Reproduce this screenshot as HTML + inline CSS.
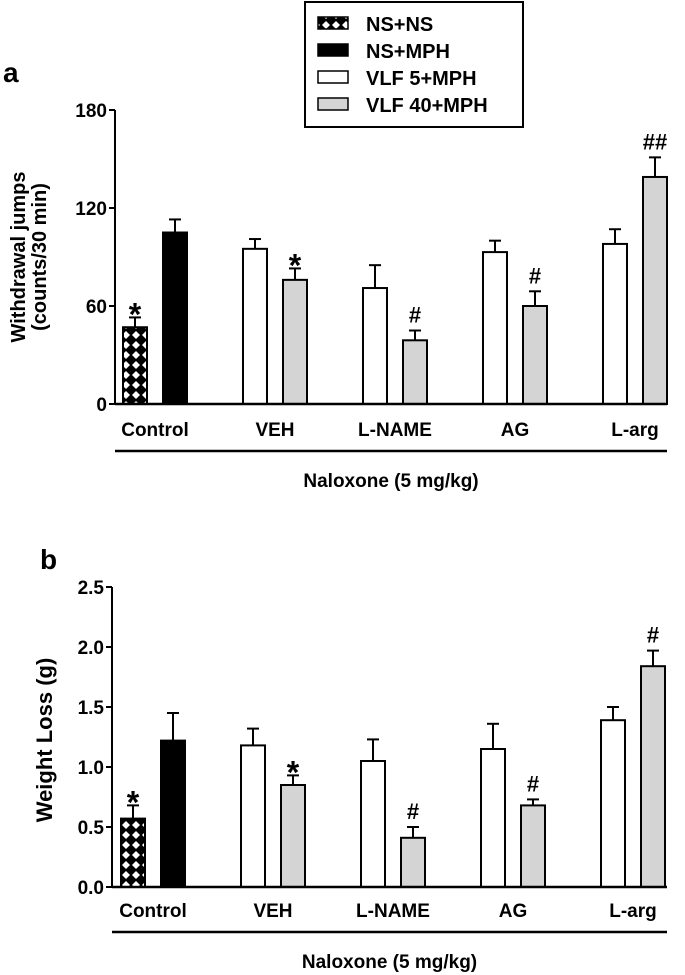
<!DOCTYPE html>
<html><head><meta charset="utf-8"><style>
html,body{margin:0;padding:0;background:#fff;}
svg{display:block;font-family:"Liberation Sans",Arial,sans-serif;font-weight:bold;}
</style></head><body>
<svg id="fig" width="685" height="975" viewBox="0 0 685 975" xmlns="http://www.w3.org/2000/svg">
<defs>
<pattern id="check" width="10" height="10" patternUnits="userSpaceOnUse" x="1" y="0">
<rect width="10" height="10" fill="#000"/>
<path d="M5 1 L9 5 L5 9 L1 5 Z" fill="#fff"/>
</pattern>
</defs>
<g>
<rect x="305" y="2" width="218" height="125" fill="#fff" stroke="#000" stroke-width="2"/>
<rect x="318" y="17" width="30" height="12" fill="url(#check)" stroke="#000" stroke-width="1.5"/>
<text x="366" y="31" font-size="20">NS+NS</text>
<rect x="318" y="44" width="30" height="12" fill="#000" stroke="#000" stroke-width="1.5"/>
<text x="366" y="58" font-size="20">NS+MPH</text>
<rect x="318" y="71" width="30" height="12" fill="#fff" stroke="#000" stroke-width="1.5"/>
<text x="366" y="85" font-size="20">VLF 5+MPH</text>
<rect x="318" y="98" width="30" height="12" fill="#d4d4d4" stroke="#000" stroke-width="1.5"/>
<text x="366" y="112" font-size="20">VLF 40+MPH</text>
</g>
<text x="3" y="82" font-size="28">a</text>
<text x="40" y="569" font-size="28">b</text>
<g id="pa"></g>
<g id="pb"></g>
</svg>
<script>
const categories = ["Control","VEH","L-NAME","AG","L-arg"];
const aTicks = [0,60,120,180];
const aValues = [[47,105],[95,76],[71,39],[93,60],[98,139]];
const aErrors = [[53,113],[101,83],[85,45],[100,69],[107,151]];
const aMarks = [["*",""],["","*"],["","#"],["","#"],["","##"]];
const bTicks = [0,0.5,1.0,1.5,2.0,2.5];
const bValues = [[0.57,1.22],[1.18,0.85],[1.05,0.41],[1.15,0.68],[1.39,1.84]];
const bErrors = [[0.68,1.45],[1.32,0.93],[1.23,0.50],[1.36,0.73],[1.50,1.97]];
const bMarks = [["*",""],["","*"],["","#"],["","#"],["","#"]];

const NS="http://www.w3.org/2000/svg";
function mk(parent, tag, attrs){const e=document.createElementNS(NS,tag);for(const k in attrs)e.setAttribute(k,attrs[k]);parent.appendChild(e);return e;}

function panel(g, cfg){
  const {ax, y0, y1, vmax, xEnd, ticks, tickFmt, values, errors, marks, lineY, labelY, nalY, title, titleX, titleY, titleSize, tag, barOff} = cfg;
  const yS = v => y0 - (v/vmax)*(y0-y1);
  const barX = (gi,bi) => ax + barOff + gi*120 + bi*40;
  const W=24;
  values.forEach((grp,gi)=>grp.forEach((v,bi)=>{
    const x=barX(gi,bi);
    let fill;
    if(gi===0) fill = bi===0 ? "url(#check)" : "#000"; else fill = bi===0 ? "#fff" : "#d4d4d4";
    const top=yS(v), et=yS(errors[gi][bi]);
    const el=mk(g,"line",{x1:x+W/2,x2:x+W/2,y1:top,y2:et,stroke:"#000","stroke-width":2});
    
    
    const cap=mk(g,"line",{x1:x+W/2-6,x2:x+W/2+6,y1:et,y2:et,stroke:"#000","stroke-width":2});
    
    
    const r=mk(g,"rect",{x:x,y:top,width:W,height:y0-top,fill:fill,stroke:"#000","stroke-width":2});
    
    
    const m=marks[gi][bi];
    if(m){
      const t=mk(g,"text",{x:x+W/2,y:et-(m==="*"?-8:8),"font-size":m==="*"?32:22,"text-anchor":"middle"});
      t.textContent=m;
      
      
    }
  }));
  const yl=mk(g,"line",{x1:ax,x2:ax,y1:y1,y2:y0,stroke:"#000","stroke-width":2});
  
  
  const xl=mk(g,"line",{x1:ax,x2:xEnd,y1:y0,y2:y0,stroke:"#000","stroke-width":2.5});
  
  
  ticks.forEach(v=>{
    const y=yS(v);
    const tl=mk(g,"line",{x1:ax-6,x2:ax,y1:y,y2:y,stroke:"#000","stroke-width":2});
    
    
    const t=mk(g,"text",{x:ax-8,y:y+7,"font-size":19,"text-anchor":"end"});
    t.textContent=tickFmt(v);
    
    
  });
  categories.forEach((c,gi)=>{
    const cx=(barX(gi,0)+barX(gi,1)+W)/2;
    const t=mk(g,"text",{x:cx,y:labelY,"font-size":19,"text-anchor":"middle"});
    t.textContent=c;
    
    
  });
  const ln=mk(g,"line",{x1:ax,x2:xEnd,y1:lineY,y2:lineY,stroke:"#000","stroke-width":2.5});
  
  
  const nt=mk(g,"text",{x:(ax+xEnd)/2,y:nalY,"font-size":19,"text-anchor":"middle"});
  nt.textContent="Naloxone (5 mg/kg)";
  
  
  title.forEach((line,i)=>{
    const tx=titleX+i*21;
    const t=mk(g,"text",{x:tx,y:titleY,"font-size":titleSize,"text-anchor":"middle",transform:`rotate(-90 ${tx} ${titleY})`});
    t.textContent=line;
    
    
  });
}
panel(document.getElementById('pa'),{ax:115,y0:404,y1:110,vmax:180,xEnd:667,ticks:aTicks,tickFmt:v=>String(v),
  values:aValues,errors:aErrors,marks:aMarks,lineY:451,labelY:436,nalY:487,title:["Withdrawal jumps","(counts/30 min)"],
  titleX:25,titleY:257,titleSize:20,tag:"a",barOff:8});
panel(document.getElementById('pb'),{ax:112,y0:887,y1:587,vmax:2.5,xEnd:667,ticks:bTicks,tickFmt:v=>v.toFixed(1),
  values:bValues,errors:bErrors,marks:bMarks,lineY:932,labelY:917,nalY:968,title:["Weight Loss (g)"],
  titleX:52,titleY:740,titleSize:22,tag:"b",barOff:9});
</script>
</body></html>
